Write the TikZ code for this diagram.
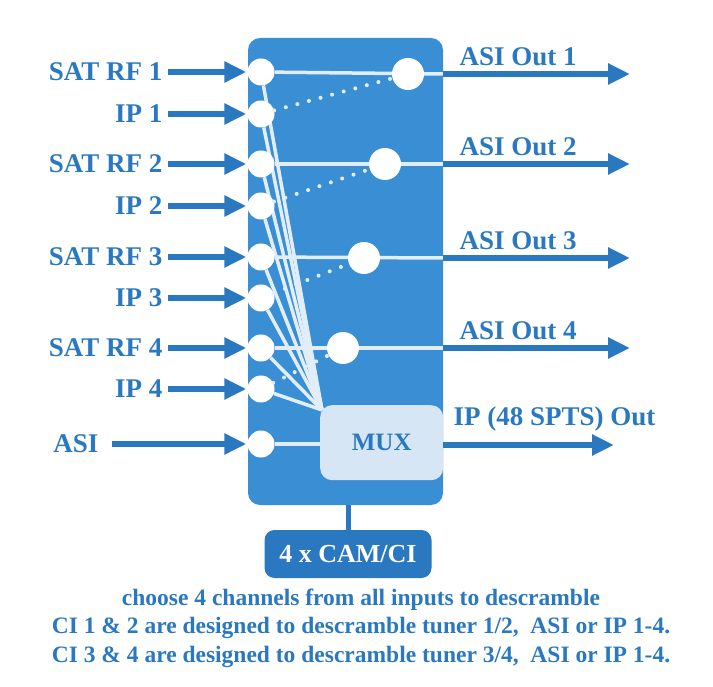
\documentclass[tikz,border=0pt]{standalone}
\usepackage{fontspec}
\setmainfont{Liberation Serif}
\usetikzlibrary{arrows.meta}
\definecolor{mb}{RGB}{58,143,212}
\definecolor{tb}{RGB}{42,120,192}
\definecolor{lb}{RGB}{214,230,245}
\definecolor{wl}{RGB}{225,238,250}
\begin{document}
\begin{tikzpicture}[x=1pt,y=-1pt,
 lab/.style={font=\fontsize{27}{30}\selectfont\bfseries,text=tb},
 arr/.style={draw=tb,line width=5.5pt,-{Triangle[length=22pt,width=20pt]}},
 dot/.style={circle,fill=white,minimum size=27pt,inner sep=0pt},
 odot/.style={circle,fill=white,minimum size=32pt,inner sep=0pt},
 wline/.style={draw=wl,line width=3.5pt},
 dline/.style={draw=wl,line width=4pt,dash pattern=on 0pt off 12pt,line cap=round}]
\useasboundingbox (0,0) rectangle (713,687);
\fill[mb,rounded corners=12pt] (248,38) rectangle (443,505);
\coordinate (mc) at (322,410);
% inputs
\foreach \n/\y/\t in {1/72/SAT RF 1,2/114/IP 1,3/164/SAT RF 2,4/206/IP 2,5/257/SAT RF 3,6/298/IP 3,7/348/SAT RF 4,8/389/IP 4}{
 \node[dot] (i\n) at (261,\y) {};
 \node[lab,anchor=east] (l\n) at (166,\y) {\t};
 \coordinate (s\n) at (168,\y);
 \draw[wline] (i\n) -- (mc);
}
\node[dot] (i9) at (261,444) {};
\node[lab,anchor=east] (l9) at (102,444) {ASI};
\coordinate (s9) at (112,444);
\foreach \n in {1,...,9}{\draw[arr] (s\n) -- ([xshift=-1pt]i\n.west);}
% outputs
\foreach \k/\ni/\nn/\x/\y in {1/1/2/408/74,2/3/4/385/164,3/5/6/364/258,4/7/8/343/348}{
 \coordinate (e\k) at (443,\y);
 \coordinate (f\k) at (630,\y);
 \draw[wline] (i\ni) -- (e\k);
 \node[odot] (o\k) at (\x,\y) {};
 \draw[dline] (i\nn) -- (o\k);
 \draw[arr] (e\k) -- (f\k);
 \node[lab,anchor=west] (ol\k) at (456,\y-17) {ASI Out \k};
}
% mux
\node[fill=lb,rounded corners=12pt,minimum width=123pt,minimum height=75pt,anchor=north west,
 font=\fontsize{25}{28}\selectfont\bfseries,text=tb] (mux) at (320,405) {MUX};
\draw[wline] (i9) -- (i9 -| mux.west);
\coordinate (e5) at (443,445); \coordinate (f5) at (614,445);
\draw[arr] (e5) -- (f5);
\node[lab,anchor=west] (ol5) at (450,419) {IP (48 SPTS) Out};
% CAM
\node[fill=tb,rounded corners=10pt,minimum width=167pt,minimum height=48pt,text=white,
 font=\fontsize{26}{28}\selectfont\bfseries] (cam) at (348,554) {4 x CAM/CI};
\coordinate (mb) at (348,505);
\draw[draw=tb,line width=5pt] (mb) -- (cam.north);
% texts
\node[font=\fontsize{23.5}{28.5}\selectfont\bfseries,text=tb,align=center] (t1) at (361,628)
 {choose 4 channels from all inputs to descramble\\
  CI 1 \& 2 are designed to descramble tuner 1/2,\ \ ASI or IP 1-4.\\
  CI 3 \& 4 are designed to descramble tuner 3/4,\ \ ASI or IP 1-4.};
\end{tikzpicture}
\end{document}
